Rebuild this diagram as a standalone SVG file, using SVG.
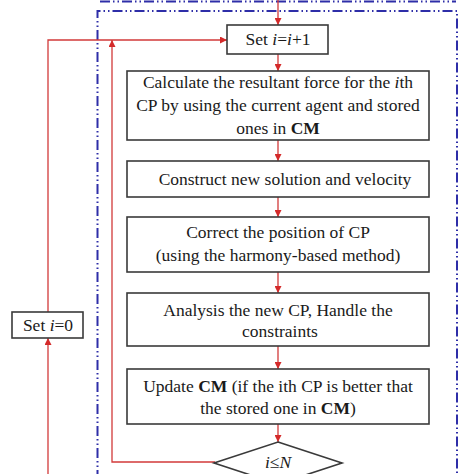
<svg xmlns="http://www.w3.org/2000/svg" width="474" height="474" viewBox="0 0 474 474">
<defs>
<style>
.bx{fill:#fff;stroke:#3a3a3a;stroke-width:1.6}
.t{font-family:"Liberation Serif","Times New Roman",serif;font-size:17.5px;fill:#1a1a1a;text-anchor:middle}
.b{font-weight:bold}
.i{font-style:italic}
.ln{fill:none;stroke:#d23a3a;stroke-width:1.3}
.dd{fill:none;stroke:#2e2ea8;stroke-width:2;stroke-dasharray:10 3 1.5 3 1.5 3}
</style>
<marker id="ah" viewBox="0 0 10 10" refX="10" refY="5" markerWidth="7" markerHeight="7" markerUnits="userSpaceOnUse" orient="auto">
<path d="M0,0 L10,5 L0,10 z" fill="#d42a2a"/>
</marker>
</defs>
<rect width="474" height="474" fill="#fff"/>
<g id="frames">
<line class="dd" x1="100" y1="1.5" x2="456" y2="1.5" stroke-width="3"/>
<path class="dd" d="M97.5,480 V11 H457 V480"/>
</g>
<g id="connectors">
<line class="ln" x1="278" y1="0" x2="278" y2="25" marker-end="url(#ah)"/>
<line class="ln" x1="278" y1="54" x2="278" y2="71" marker-end="url(#ah)"/>
<line class="ln" x1="278" y1="140" x2="278" y2="161" marker-end="url(#ah)"/>
<line class="ln" x1="278" y1="197" x2="278" y2="217" marker-end="url(#ah)"/>
<line class="ln" x1="278" y1="272" x2="278" y2="293" marker-end="url(#ah)"/>
<line class="ln" x1="278" y1="346" x2="278" y2="369" marker-end="url(#ah)"/>
<line class="ln" x1="278" y1="424" x2="278" y2="442" marker-end="url(#ah)"/>
<polyline class="ln" points="215,462 112,462 112,40" marker-end="url(#ah)"/>
<polyline class="ln" points="48,312 48,40 227,40" marker-end="url(#ah)"/>
<line class="ln" x1="48" y1="474" x2="48" y2="338" marker-end="url(#ah)"/>
</g>
<g id="set-inc">
<rect class="bx" x="227" y="25" width="101" height="29"/>
<text class="t" x="278" y="45">Set <tspan class="i">i</tspan>=<tspan class="i">i</tspan>+1</text>
</g>
<g id="calc">
<rect class="bx" x="127" y="71" width="302" height="69"/>
<text class="t" x="278" y="88">Calculate the resultant force for the <tspan class="i">i</tspan>th</text>
<text class="t" x="278" y="111">CP by using the current agent and stored</text>
<text class="t" x="278" y="134">ones in <tspan class="b">CM</tspan></text>
</g>
<g id="construct">
<rect class="bx" x="127" y="161" width="302" height="36"/>
<text class="t" x="285" y="185">Construct new solution and velocity</text>
</g>
<g id="correct">
<rect class="bx" x="127" y="217" width="302" height="55"/>
<text class="t" x="278" y="238">Correct the position of CP</text>
<text class="t" x="278" y="261">(using the harmony-based method)</text>
</g>
<g id="analysis">
<rect class="bx" x="127" y="293" width="302" height="53"/>
<text class="t" x="278" y="316">Analysis the new CP, Handle the</text>
<text class="t" x="280" y="337">constraints</text>
</g>
<g id="update">
<rect class="bx" x="127" y="369" width="302" height="55"/>
<text class="t" x="278" y="392">Update <tspan class="b">CM</tspan> (if the ith CP is better that</text>
<text class="t" x="278" y="414">the stored one in <tspan class="b">CM</tspan>)</text>
</g>
<g id="decision">
<polygon class="bx" points="278,442 342,463 278,484 214,463"/>
<text class="t" x="278" y="468"><tspan class="i">i</tspan>≤<tspan class="i">N</tspan></text>
</g>
<g id="set-zero">
<rect class="bx" x="12" y="312" width="71" height="26"/>
<text class="t" x="48" y="331">Set <tspan class="i">i</tspan>=0</text>
</g>
</svg>
